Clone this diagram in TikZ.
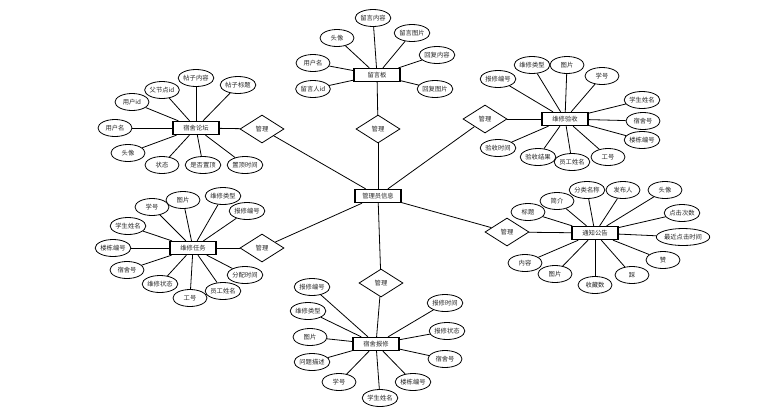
\documentclass[tikz,border=0pt]{standalone}
\usepackage{fontspec}
\setmainfont{Noto Sans CJK SC}
\usetikzlibrary{shapes.geometric}

\tikzset{
  entity/.style={draw, line width=1.3pt, fill=white, minimum width=46pt,
                 minimum height=13pt, inner sep=1pt},
  attr/.style={draw, ellipse, line width=0.8pt, fill=white, minimum width=34pt,
               minimum height=17pt, inner sep=0pt},
  rel/.style={draw, diamond, aspect=1.6, line width=0.8pt, fill=white,
              minimum width=44pt, minimum height=28pt, inner sep=0pt},
  link/.style={line width=0.8pt}
}

\begin{document}
\begin{tikzpicture}[x=1pt, y=-1pt, font=\fontsize{6.3pt}{7pt}\selectfont, text=black!85]
    \useasboundingbox (0,0) rectangle (784,416);

    % entities
    \node[entity] (admin)  at (378,196) {管理员信息};
    \node[entity] (board)  at (377,75)  {留言板};
    \node[entity] (forum)  at (196,128) {宿舍论坛};
    \node[entity] (check)  at (565,119) {维修验收};
    \node[entity] (task)   at (193,248) {维修任务};
    \node[entity] (notice) at (595,233) {通知公告};
    \node[entity] (repair) at (376,344) {宿舍报修};

    % relations
    \node[rel] (rboard)  at (378,129) {管理};
    \node[rel] (rforum)  at (262,129) {管理};
    \node[rel] (rcheck)  at (485,119) {管理};
    \node[rel] (rtask)   at (262,248) {管理};
    \node[rel] (rnotice) at (507,232) {管理};
    \node[rel] (rrepair) at (381,283) {管理};

    \foreach \r/\e in {rboard/board, rforum/forum, rcheck/check,
                       rtask/task, rnotice/notice, rrepair/repair} {
      \draw[link] (admin) -- (\r);
      \draw[link] (\r) -- (\e);
    }

    % attributes of 留言板
    \foreach \x/\y/\t [count=\i] in {373/18/留言内容, 337/38/头像, 412/33/留言图片,
        313/63/用户名, 437/55/回复内容, 313/89/留言人id, 435/89/回复图片} {
      \node[attr] (board\i) at (\x,\y) {\t};
      \draw[link] (board) -- (board\i);
    }

    % attributes of 宿舍论坛
    \foreach \x/\y/\t [count=\i] in {162/90/父节点id, 196/78/帖子内容, 238/85/帖子标题,
        132/102/用户id, 115/128/用户名, 128/153/头像, 162/165/状态,
        203/165/是否置顶, 245/165/置顶时间} {
      \node[attr] (forum\i) at (\x,\y) {\t};
      \draw[link] (forum) -- (forum\i);
    }

    % attributes of 维修验收
    \foreach \x/\y/\t [count=\i] in {498/79/报修编号, 532/65/维修类型, 567/65/图片,
        602/76/学号, 642/100/学生姓名, 643/121/宿舍号, 642/140/楼栋编号,
        608/157/工号, 572/162/员工姓名, 538/157/验收结果, 498/148/验收时间} {
      \node[attr] (check\i) at (\x,\y) {\t};
      \draw[link] (check) -- (check\i);
    }

    % attributes of 维修任务
    \foreach \x/\y/\t [count=\i] in {152/207/学号, 183/200/图片, 223/196/维修类型,
        247/211/报修编号, 128/226/学生姓名, 113/248/楼栋编号, 127/270/宿舍号,
        160/284/维修状态, 190/298/工号, 223/291/员工姓名, 245/275/分配时间} {
      \node[attr] (task\i) at (\x,\y) {\t};
      \draw[link] (task) -- (task\i);
    }

    % attributes of 通知公告
    \foreach \x/\y/\t [count=\i] in {528/212/标题, 557/201/简介, 587/190/分类名称,
        623/190/发布人, 665/190/头像, 682/213/点击次数, 683/237/最近点击时间,
        663/260/赞, 632/275/踩, 595/285/收藏数, 555/274/图片, 525/263/内容} {
      \node[attr] (notice\i) at (\x,\y) {\t};
      \draw[link] (notice) -- (notice\i);
    }

    % attributes of 宿舍报修
    \foreach \x/\y/\t [count=\i] in {312/287/报修编号, 308/311/维修类型, 310/337/图片,
        312/362/问题描述, 339/382/学号, 380/398/学生姓名, 413/382/楼栋编号,
        445/359/宿舍号, 447/331/报修状态, 445/303/报修时间} {
      \node[attr] (repair\i) at (\x,\y) {\t};
      \draw[link] (repair) -- (repair\i);
    }
\end{tikzpicture}
\end{document}
